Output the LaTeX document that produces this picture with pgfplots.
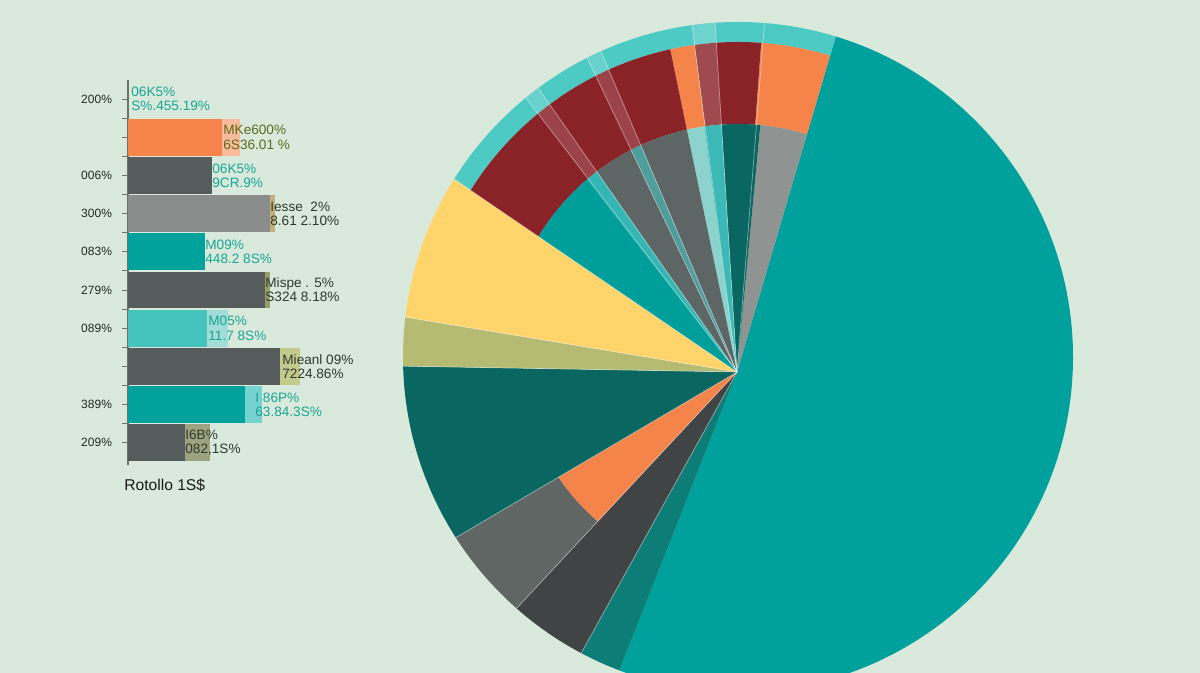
\documentclass[border=0pt]{standalone}
\usepackage{pgfplots}
\pgfplotsset{compat=1.18}
\usepackage{fontspec}
\setmainfont{Liberation Sans}
\definecolor{bg}{HTML}{D9EADD}
\definecolor{bigteal}{HTML}{00A19D}
\definecolor{midteal}{HTML}{0D7D78}
\definecolor{darkgray}{HTML}{404445}
\definecolor{gray1}{HTML}{5F6664}
\definecolor{orange1}{HTML}{F5844B}
\definecolor{darkteal}{HTML}{0A6661}
\definecolor{olive}{HTML}{B5BB72}
\definecolor{yellow1}{HTML}{FED46B}
\definecolor{ringteal}{HTML}{4ECAC4}
\definecolor{red1}{HTML}{8A2328}
\definecolor{lightgray1}{HTML}{8F9392}
\definecolor{teal2}{HTML}{12A9A6}
\definecolor{lightteal}{HTML}{8BD3CC}
\definecolor{slate}{HTML}{5E6565}
\definecolor{teal3}{HTML}{009E9A}
\definecolor{barteal}{HTML}{01A29B}
\definecolor{barlteal}{HTML}{45C4BE}
\definecolor{bardark}{HTML}{565B5B}
\definecolor{bargray}{HTML}{8A8D8C}
\definecolor{txtteal}{HTML}{17A594}
\definecolor{txtdark}{HTML}{2E3A2C}
\definecolor{txtolive}{HTML}{5D6A1C}
\definecolor{axisgray}{HTML}{6E7370}
% sector: start angle, end angle (rays from apex A), inner radius, outer radius (circles about C), style
\newcommand{\sector}[5]{%
  \begin{scope}
  \clip (A) -- ++(#1:320pt) arc[start angle=#1, end angle=#2, radius=320pt] -- cycle;
  \fill[#5, even odd rule] (C) circle[radius=#4] (C) circle[radius=#3];
  \end{scope}}
\newcommand{\sep}[1]{\begin{scope}\clip (C) circle[radius=167.5pt];
  \draw[white, opacity=0.45, line width=0.35pt] (A) -- ++(#1:200pt);\end{scope}}
\pgfplotsset{mybar/.style={bar shift=0pt, bar width=18.4pt, draw=none}}
\begin{document}
\begin{tikzpicture}
\useasboundingbox (0pt,0pt) rectangle (600pt,336.5pt);
\fill[bg] (0pt,0pt) rectangle (600pt,336.5pt);
\clip (0pt,0pt) rectangle (600pt,336.5pt);
% ---------------- pie ----------------
\begin{axis}[at={(0pt,0pt)}, anchor=south west, x=0.5pt, y=0.5pt,
  xmin=0, xmax=1200, ymin=0, ymax=673, hide axis, clip=true]
\coordinate (A) at (axis cs:737,301);
\coordinate (C) at (axis cs:738,316);
\sector{-111.5}{73.6}{0.01pt}{167.5pt}{bigteal}
\sector{-119}{-111.5}{0.01pt}{167.5pt}{midteal}
\sector{-133}{-119}{0.01pt}{167.5pt}{darkgray}
\sector{-149.5}{-133}{108pt}{167.5pt}{gray1}
\sector{-149.5}{-133}{0.01pt}{108pt}{orange1}
\sector{-181}{-149.5}{0.01pt}{167.5pt}{darkteal}
\sector{170.6}{179}{0.01pt}{167.5pt}{olive}
\sector{145.7}{170.6}{0.01pt}{167.5pt}{yellow1}
\sector{73.6}{145.7}{157.5pt}{167.5pt}{ringteal}
\sector{73.6}{85.8}{116.5pt}{157.5pt}{orange1}
\sector{85.8}{97.4}{116.5pt}{157.5pt}{red1}
\sector{97.4}{101.7}{116.5pt}{157.5pt}{orange1}
\sector{101.7}{145.7}{116.5pt}{157.5pt}{red1}
\sector{73.6}{84.6}{0.01pt}{116.5pt}{lightgray1}
\sector{84.6}{93.6}{0.01pt}{116.5pt}{darkteal}
\sector{93.6}{97.6}{0.01pt}{116.5pt}{teal2}
\sector{97.6}{101.7}{0.01pt}{116.5pt}{lightteal}
\sector{101.7}{113}{0.01pt}{116.5pt}{slate}
\sector{113}{115.5}{0.01pt}{116.5pt}{teal2!60!slate}
\sector{115.5}{125}{0.01pt}{116.5pt}{slate}
\sector{125}{128}{0.01pt}{116.5pt}{teal2}
\sector{128}{145.7}{0.01pt}{116.5pt}{teal3}
\sector{93.6}{97.4}{0.01pt}{167.5pt}{white,opacity=0.18}
\sector{113}{115.5}{0.01pt}{167.5pt}{white,opacity=0.15}
\sector{125}{127.6}{0.01pt}{167.5pt}{white,opacity=0.15}
\sep{93.6}\sep{97.4}\sep{113}\sep{115.5}\sep{125}\sep{127.6}
\sep{170.6}\sep{179}\sep{-149.5}\sep{-133}\sep{-119}\sep{145.7}\sep{85.5}
\end{axis}
% ---------------- bars ----------------
\begin{axis}[at={(64pt,104pt)}, anchor=south west, x=0.5pt, y=19.1pt,
  xmin=0, xmax=300, ymin=-0.58, ymax=9.5, xbar, clip=false,
  axis x line=none, axis y line*=left,
  y axis line style={draw=axisgray, line width=0.7pt, -},
  ytick={0,...,9},
  yticklabels={209\%,389\%,,089\%,279\%,083\%,300\%,006\%,,200\%},
  minor y tick num=1, tick align=outside,
  major tick length=3pt, minor tick length=3pt,
  every tick/.style={axisgray, line width=0.5pt},
  yticklabel style={font=\fontsize{6}{6}\selectfont, text=black!85, xshift=-1.5pt}]
% lighter extensions behind labels
\addplot[mybar, fill=orange1!55] coordinates {(112,8)};
\addplot[mybar, fill=yellow1!50!bargray] coordinates {(147,6)};
\addplot[mybar, fill=olive!70!bardark] coordinates {(142,4)};
\addplot[mybar, fill=lightteal!80] coordinates {(100,3)};
\addplot[mybar, fill=olive!80!white] coordinates {(172,2)};
\addplot[mybar, fill=barlteal!75] coordinates {(134,1)};
\addplot[mybar, fill=olive!45!bargray] coordinates {(82,0)};
% main bars
\addplot[mybar, fill=orange1] coordinates {(94,8)};
\addplot[mybar, fill=bardark] coordinates {(84,7)};
\addplot[mybar, fill=bargray] coordinates {(142,6)};
\addplot[mybar, fill=barteal] coordinates {(77,5)};
\addplot[mybar, fill=bardark] coordinates {(137,4)};
\addplot[mybar, fill=barlteal] coordinates {(79,3)};
\addplot[mybar, fill=bardark] coordinates {(152,2)};
\addplot[mybar, fill=barteal] coordinates {(117,1)};
\addplot[mybar, fill=bardark] coordinates {(57,0)};
% labels
\tikzset{lab/.style={anchor=west, align=left, inner sep=0pt, font=\fontsize{6.8}{7.1}\selectfont}}
\node[lab, text=txtteal] at (axis cs:3,9) {06K5\%\\ S\%.455.19\%};
\node[lab, text=txtolive] at (axis cs:95,8) {MKe600\%\\6S36.01 \%};
\node[lab, text=txtteal] at (axis cs:84,7) {06K5\%\\9CR.9\%};
\node[lab, text=txtdark] at (axis cs:142,6) {Iesse\ \ 2\%\\8.61 2.10\%};
\node[lab, text=txtteal] at (axis cs:77,5) {M09\%\\448.2 8S\%};
\node[lab, text=txtdark] at (axis cs:137,4) {Mispe . 5\%\\S324 8.18\%};
\node[lab, text=txtteal] at (axis cs:80,3) {M05\%\\11.7 8S\%};
\node[lab, text=txtdark] at (axis cs:154,2) {Mieanl 09\%\\ 7224.86\%};
\node[lab, text=txtteal] at (axis cs:127,1) {I 86P\%\\63.84.3S\%};
\node[lab, text=txtdark] at (axis cs:57,0) {I6B\%\\082,1S\%};
\node[anchor=west, inner sep=0pt, font=\fontsize{7.8}{8}\selectfont, text=black!90] at (axis cs:-4,-1.1) {Rotollo 1S\$};
\end{axis}
\end{tikzpicture}
\end{document}
